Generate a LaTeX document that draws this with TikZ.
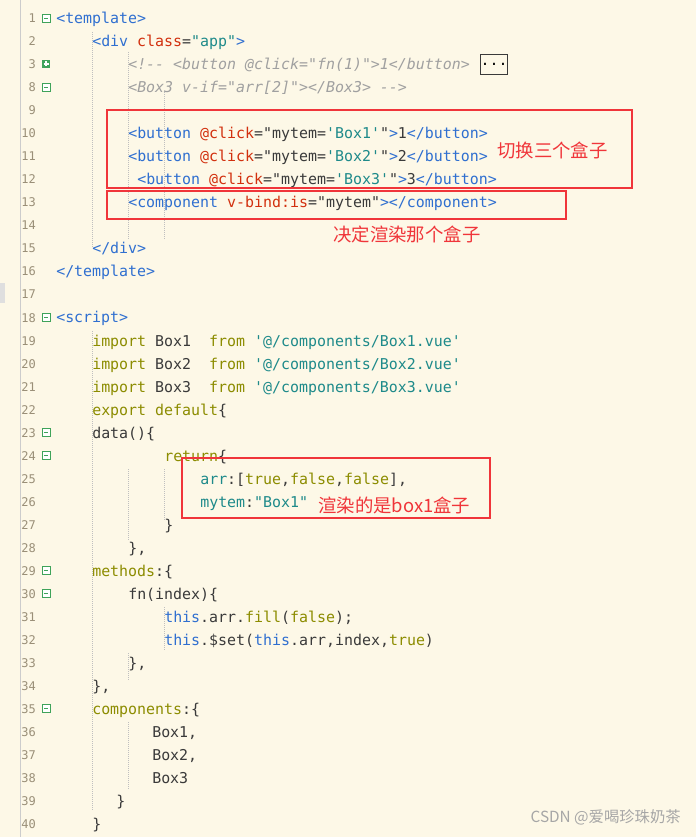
\documentclass[tikz,border=0pt]{standalone}
\usepackage{fontspec}
\setmonofont{DejaVu Sans Mono}
\newfontfamily\cjk{Noto Sans CJK SC}
\usepackage{xcolor}
\definecolor{bg}{HTML}{FDF8E7}
\definecolor{tagc}{HTML}{2F6FD0}
\definecolor{attc}{HTML}{D2300E}
\definecolor{strc}{HTML}{1E8A8A}
\definecolor{kwc}{HTML}{8C8C00}
\definecolor{txc}{HTML}{3A3A3A}
\definecolor{cmc}{HTML}{A0A0A0}
\definecolor{lnc}{HTML}{9A8F78}
\definecolor{redc}{HTML}{F0353A}
\definecolor{foldc}{HTML}{3FA35A}
\newcommand{\tg}[1]{\textcolor{tagc}{#1}}
\newcommand{\at}[1]{\textcolor{attc}{#1}}
\newcommand{\sq}[1]{\textcolor{strc}{#1}}
\newcommand{\kw}[1]{\textcolor{kwc}{#1}}
\newcommand{\cm}[1]{\textcolor{cmc}{\itshape #1}}
\begin{document}
\begin{tikzpicture}[x=0.75pt,y=-0.75pt,
  code/.style={anchor=base west,inner sep=0pt,font=\ttfamily\fontsize{11.2}{13}\selectfont,text=txc},
  lnum/.style={anchor=base east,inner sep=0pt,font=\ttfamily\fontsize{9}{11}\selectfont,text=lnc},
  redbox/.style={draw=redc,line width=0.8pt},
  note/.style={anchor=base west,inner sep=0pt,font=\cjk\fontsize{13.8}{15}\selectfont,text=redc},
  foldm/.style={draw=foldc,line width=0.6pt},
  guide/.style={draw=gray!50,line width=0.5pt,densely dotted}]
\fill[bg] (0,0) rectangle (696,837);
\useasboundingbox (0,0) rectangle (696,837);
\draw[gray!40] (20,0) -- (20,837);
\fill[gray!25] (0,283) rectangle (5,303);
% line numbers
\foreach \r/\n in {0/1,1/2,2/3,3/8,4/9,5/10,6/11,7/12,8/13,9/14,10/15,11/16,12/17,13/18,14/19,15/20,16/21,17/22,18/23,19/24,20/25,21/26,22/27,23/28,24/29,25/30,26/31,27/32,28/33,29/34,30/35,31/36,32/37,33/38,34/39,35/40}
  \node[lnum] (n\n) at (36,{18+23*\r+5}) {\n};
% fold markers
\foreach \r/\n in {0/1,3/8,13/18,18/23,19/24,24/29,25/30,30/35}{
  \draw[foldm,fill=white] (42,{18+23*\r-4}) rectangle (50,{18+23*\r+4});
  \draw[foldm] (44,{18+23*\r}) -- (48,{18+23*\r});}
\fill[foldc] (42,60) rectangle (50,68);
\draw[white,line width=0.8pt] (43.5,64) -- (48.5,64) (46,61.5) -- (46,66.5);
% indent guides
\draw[guide] (92,32) -- (92,248);
\draw[guide] (128,52) -- (128,240);
\draw[guide] (164,92) -- (164,240);
\draw[guide] (92,331) -- (92,810);
\draw[guide] (128,469) -- (128,540);
\draw[guide] (164,469) -- (164,520);
\draw[guide] (128,653) -- (128,680);
\draw[guide] (164,607) -- (164,650);
\draw[guide] (128,722) -- (128,790);
\begin{scope}[yshift=-1.5pt]
% code lines
\node[code] (c1) at (56,22) {\tg{<template>}};
\node[code] (c2) at (92,45) {\tg{<div} \at{class}=\sq{"app"}\tg{>}};
\node[code] (c3) at (128,68) {\cm{<!-- <button @click="fn(1)">1</button>}};
\node[code] (c8) at (128,91) {\cm{<Box3 v-if="arr[2]"></Box3> -->}};
\node[code] (c10) at (128,137) {\tg{<button} \at{@click}=\texttt{"mytem=}\sq{'Box1'}\texttt{"}\tg{>}1\tg{</button>}};
\node[code] (c11) at (128,160) {\tg{<button} \at{@click}=\texttt{"mytem=}\sq{'Box2'}\texttt{"}\tg{>}2\tg{</button>}};
\node[code] (c12) at (137,183) {\tg{<button} \at{@click}=\texttt{"mytem=}\sq{'Box3'}\texttt{"}\tg{>}3\tg{</button>}};
\node[code] (c13) at (128,206) {\tg{<component} \at{v-bind:is}=\texttt{"mytem"}\tg{></component>}};
\node[code] (c15) at (92,252) {\tg{</div>}};
\node[code] (c16) at (56,275) {\tg{</template>}};
\node[code] (c18) at (56,321) {\tg{<script>}};
\node[code] (c19) at (92,344) {\kw{import} Box1\ \ \kw{from} \sq{'@/components/Box1.vue'}};
\node[code] (c20) at (92,367) {\kw{import} Box2\ \ \kw{from} \sq{'@/components/Box2.vue'}};
\node[code] (c21) at (92,390) {\kw{import} Box3\ \ \kw{from} \sq{'@/components/Box3.vue'}};
\node[code] (c22) at (92,413) {\kw{export default}\{};
\node[code] (c23) at (92,436) {data()\{};
\node[code] (c24) at (164,459) {\kw{return}\{};
\node[code] (c25) at (200,482) {\sq{arr}:[\kw{true},\kw{false},\kw{false}],};
\node[code] (c26) at (200,505) {\sq{mytem}:\sq{"Box1"}};
\node[code] (c27) at (164,528) {\}};
\node[code] (c28) at (128,551) {\},};
\node[code] (c29) at (92,574) {\kw{methods}:\{};
\node[code] (c30) at (128,597) {fn(index)\{};
\node[code] (c31) at (164,620) {\tg{this}.arr.\kw{fill}(\kw{false});};
\node[code] (c32) at (164,643) {\tg{this}.\$set(\tg{this}.arr,index,\kw{true})};
\node[code] (c33) at (128,666) {\},};
\node[code] (c34) at (92,689) {\},};
\node[code] (c35) at (92,712) {\kw{components}:\{};
\node[code] (c36) at (152,735) {Box1,};
\node[code] (c37) at (152,758) {Box2,};
\node[code] (c38) at (152,781) {Box3};
\node[code] (c39) at (116,804) {\}};
\node[code] (c40) at (92,827) {\}};
\end{scope}
\node[draw=txc,minimum width=27pt*0.75,minimum height=20pt*0.75,inner sep=0pt,font=\ttfamily\fontsize{11.2}{13}\selectfont] (dots) at (494,64) {...};
% annotations
\draw[redbox] (107,110) rectangle (632,188);
\draw[redbox] (107,191) rectangle (566,219);
\draw[redbox] (182,458) rectangle (490,518);
\node[note] (a1) at (497,158) {切换三个盒子};
\node[note] (a2) at (333,242) {决定渲染那个盒子};
\node[note] (a3) at (318,512) {渲染的是box1盒子};
\node[anchor=base east,inner sep=0pt,font=\cjk\fontsize{11.5}{13}\selectfont,text=gray!70] (wm) at (681,822) {CSDN @爱喝珍珠奶茶};
\end{tikzpicture}
\end{document}
